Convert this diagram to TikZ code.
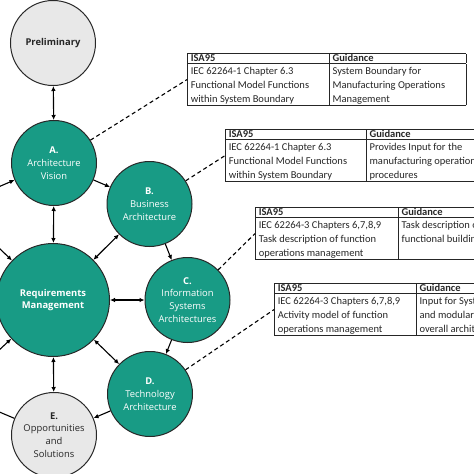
\documentclass[tikz,border=0pt]{standalone}
\usepackage{fontspec}
\setmainfont{Carlito}
\newfontfamily\phasefont{Open Sans}
\usepackage{array}
\usetikzlibrary{arrows.meta}
\definecolor{admteal}{RGB}{24,155,133}
\definecolor{admgrey}{RGB}{232,232,232}
\definecolor{admborder}{RGB}{40,40,40}

% row struts for the ISA95 tables
\newcommand{\hdstrut}{\rule[-2pt]{0pt}{9.4pt}}
\newcommand{\bdstrut}{\rule[-3.2pt]{0pt}{13.8pt}}
\setlength{\arrayrulewidth}{0.8pt}
\setlength{\tabcolsep}{3pt}

\begin{document}
\begin{tikzpicture}[
    x=1pt, y=-1pt,
    >={Latex[length=5pt,width=4.6pt]},
    phasenode/.style={circle, draw=admborder, line width=1pt, fill=admteal, text=white, align=center, inner sep=0pt, minimum size=85pt, font=\phasefont\fontsize{9.4}{12.8}\selectfont},
    greynode/.style={phasenode, fill=admgrey, text=black!85},
    bignode/.style={phasenode, minimum size=113pt},
    tablenode/.style={anchor=north west, inner sep=0pt, outer sep=0pt, text=black!85, font=\fontsize{10.5}{12}\selectfont},
    arrow/.style={<->, line width=1.1pt, draw=black},
    onearrow/.style={->, line width=1.1pt, draw=black},
    dashlink/.style={dash pattern=on 4pt off 3pt, line width=1.1pt, draw=black}
]
\useasboundingbox (0,0) rectangle (474,474);
\clip (0,0) rectangle (474,474);

% ADM phases
\node[greynode] (prelim) at (53,43) {\textbf{Preliminary}};
\node[phasenode] (vision) at (54,163) {\textbf{A.}\\Architecture\\Vision};
\node[phasenode] (business) at (149.5,204) {\textbf{B.}\\Business\\Architecture};
\node[bignode] (reqs) at (53,300) {\textbf{Requirements}\\\textbf{Management}};
\node[phasenode] (infosys) at (187.5,300) {\textbf{C.}\\Information\\Systems\\Architectures};
\node[phasenode] (techno) at (150,394) {\textbf{D.}\\Technology\\Architecture};
\node[greynode] (opport) at (54,435) {\textbf{E.}\\Opportunities\\and\\Solutions};

% ends of connectors outside the crop
\coordinate (intop) at (53,-12);
\coordinate (inA) at (-4,188);
\coordinate (inR1) at (-2,247);
\coordinate (inR2) at (-3,352);
\coordinate (inE) at (-3,411);

\renewcommand{\arraystretch}{0}
\node[tablenode] (isa1) at (187,53) {\begin{tabular}{|p{135pt}|p{130pt}|}\hline
\hdstrut\textbf{ISA95} & \textbf{Guidance}\\\hline
\bdstrut IEC 62264-1 Chapter 6.3 & System Boundary for\\
\bdstrut Functional Model Functions & Manufacturing Operations\\
\bdstrut within System Boundary & Management\\\hline
\end{tabular}};
\node[tablenode] (isa2) at (225,129) {\begin{tabular}{|p{134pt}|p{130pt}|}\hline
\hdstrut\textbf{ISA95} & \textbf{Guidance}\\\hline
\bdstrut IEC 62264-1 Chapter 6.3 & Provides Input for the\\
\bdstrut Functional Model Functions & manufacturing operations\\
\bdstrut within System Boundary & procedures\\\hline
\end{tabular}};
\node[tablenode] (isa3) at (255,207) {\begin{tabular}{|p{136pt}|p{130pt}|}\hline
\hdstrut\textbf{ISA95} & \textbf{Guidance}\\\hline
\bdstrut IEC 62264-3 Chapters 6,7,8,9 & Task description of\\
\bdstrut Task description of  function & functional building blocks\\
\bdstrut operations management & \\\hline
\end{tabular}};
\node[tablenode] (isa4) at (274,283) {\begin{tabular}{|p{135pt}|p{130pt}|}\hline
\hdstrut\textbf{ISA95} & \textbf{Guidance}\\\hline
\bdstrut IEC 62264-3 Chapters 6,7,8,9 & Input for System Boundary\\
\bdstrut Activity model of function & and modularity of the\\
\bdstrut operations management & overall architecture\\\hline
\end{tabular}};

\draw[arrow] (intop) -- (prelim);
\draw[arrow] (prelim) -- (vision);
\draw[onearrow] (inA) -- (vision);
\draw[onearrow] (vision) -- (business);
\draw[arrow] (vision) -- (reqs);
\draw[arrow] (business) -- (reqs);
\draw[onearrow] (business) -- (infosys);
\draw[onearrow] (inR1) -- (reqs);
\draw[arrow] (reqs) -- (infosys);
\draw[onearrow] (inR2) -- (reqs);
\draw[onearrow] (infosys) -- (techno);
\draw[arrow] (reqs) -- (techno);
\draw[arrow] (reqs) -- (opport);
\draw[onearrow] (techno) -- (opport);
\draw[line width=1.1pt] (inE) -- (opport);

\draw[dashlink] (vision) -- (isa1.west);
\draw[dashlink] (business) -- (isa2.west);
\draw[dashlink] (infosys) -- (isa3.west);
\draw[dashlink] (techno) -- (isa4.west);
\end{tikzpicture}
\end{document}
